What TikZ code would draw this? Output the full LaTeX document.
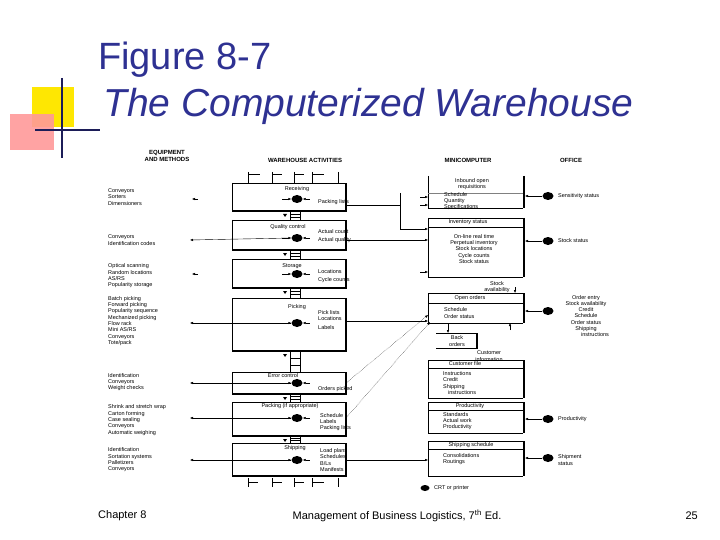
\documentclass[tikz,border=0pt]{standalone}
\usepackage{fontspec}
\setmainfont{Liberation Sans}
\usetikzlibrary{shapes.geometric,arrows.meta}
\definecolor{tblue}{HTML}{2E3192}
\begin{document}
\begin{tikzpicture}[x=1pt,y=-1pt,
 t/.style={font=\fontsize{5.5}{6.3}\selectfont,inner sep=0pt,align=left},
 tc/.style={font=\fontsize{5.5}{6.3}\selectfont,inner sep=0pt,align=center},
 hd/.style={font=\fontsize{6}{6.5}\selectfont\bfseries,inner sep=0pt,align=center},
 box/.style={draw,line width=0.5pt},
 sh/.style={line width=2.2pt},
 dot/.style={ellipse,fill=black,minimum width=11pt,minimum height=8pt,inner sep=0pt},
 ar/.style={-{Latex[length=3pt,width=2.5pt]},line width=0.4pt},
 rung/.style={line width=0.5pt}]
\useasboundingbox (0,0) rectangle (720,540);
% decoration
\fill[yellow!90!orange] (32,87) rectangle (74,127);
\fill[red!40,opacity=0.9] (10,114) rectangle (54,150);
\draw[line width=1.5pt,tblue!60!black] (62,78) -- (62,158);
\draw[line width=1.2pt,tblue!60!black] (35,130) -- (100,130);
\node[anchor=west,inner sep=0pt,font=\fontsize{38}{40}\selectfont,text=tblue] (title1) at (98,60) {Figure 8-7};
\node[anchor=west,inner sep=0pt,font=\fontsize{39}{41}\selectfont\itshape,text=tblue] (title2) at (103,106) {The Computerized Warehouse};
% headers
\node[hd] (h1) at (167,156) {EQUIPMENT\\AND METHODS};
\node[hd] (h2) at (305,160) {WAREHOUSE ACTIVITIES};
\node[hd] (h3) at (468,160) {MINICOMPUTER};
\node[hd] (h4) at (571,160) {OFFICE};
% warehouse boxes
\foreach \n/\a/\b in {w1/183/211,w2/220/250,w3/259/288,w4/298/351,w5/372/394,w6/402/436,w7/443/476}{
 \draw[box] (232,\a) -- (345,\a);
 \draw[box] (232,\a) -- (232,\b);
 \draw[sh] (232,\b) -- (346,\b) -- (346,\a);
 \coordinate (\n) at (297,{(\a+\b)/2});
}
% ladders
\foreach \a/\b in {211/220,250/259,288/298,351/372,394/402,436/443}{
 \draw[rung] (290,\a) -- (290,\b) (300,\a) -- (300,\b);
 \foreach \k in {0,0.33,0.66,1} \draw[rung] (290,{\a+\k*(\b-\a)}) -- (300,{\a+\k*(\b-\a)});
 \fill (283,{\a+3}) -- (287,{\a+3}) -- (285,{\a+6}) -- cycle;
}
% top and bottom ticks
\foreach \x in {248,272,294,312,338}{\draw[rung] (\x,172) -- (\x,183);}
\draw[rung] (248,174) -- (260,174) (272,174) -- (282,174) (294,174) -- (304,174) (312,174) -- (324,174);
\foreach \x in {248,272,294,312,338}{\draw[rung] (\x,478) -- (\x,487);}
\draw[rung] (248,482) -- (258,482) (272,482) -- (282,482) (294,482) -- (304,482) (312,482) -- (324,482);
% dots and activity texts
\node[dot] (d1) at (297,199) {};
\node[dot] (d2) at (297,238) {};
\node[dot] (d3) at (297,274) {};
\node[dot] (d4) at (297,323) {};
\node[dot] (d5) at (297,383) {};
\node[dot] (d6) at (297,418) {};
\node[dot] (d7) at (297,460) {};
\node[tc] (a1) at (297,189) {Receiving};
\node[tc] (a2) at (288,227) {Quality control};
\node[tc] (a3) at (292,266) {Storage};
\node[tc] (a4) at (297,307) {Picking};
\node[tc] (a5) at (283,376) {Error control};
\node[tc] (a6) at (290,406) {Packing (if appropriate)};
\node[tc] (a7) at (295,448) {Shipping};
\node[t,anchor=west] (b1) at (318,202) {Packing lists};
\node[t,anchor=west] (b2) at (318,236) {Actual count\\[1pt]Actual quality};
\node[t,anchor=west] (b3) at (318,276) {Locations\\[1pt]Cycle counts};
\node[t,anchor=west] (b4) at (318,320) {Pick lists\\Locations\\[2pt]Labels};
\node[t,anchor=west] (b5) at (318,389) {Orders picked};
\node[t,anchor=west] (b6) at (320,422) {Schedule\\Labels\\Packing lists};
\node[t,anchor=west] (b7) at (320,460) {Load plans\\Schedules\\B/Ls\\Manifests};
\foreach \i in {d1,d2,d3,d4,d5,d6,d7}{\draw[ar] ([xshift=-9pt]\i.west) -- (\i.west); \draw[ar] ([xshift=7pt]\i.east) -- (\i.east);}
% equipment texts
\node[t,anchor=west] (e1) at (108,197) {Conveyors\\Sorters\\Dimensioners};
\node[t,anchor=west] (e2) at (108,240) {Conveyors\\Identification codes};
\node[t,anchor=west] (e3) at (108,276) {Optical scanning\\Random locations\\AS/RS\\Popularity storage};
\node[t,anchor=west] (e4) at (108,321) {Batch picking\\Forward picking\\Popularity sequence\\Mechanized picking\\Flow rack\\Mini AS/RS\\Conveyors\\Tote/pack};
\node[t,anchor=west] (e5) at (108,382) {Identification\\Conveyors\\Weight checks};
\node[t,anchor=west] (e6) at (108,420) {Shrink and stretch wrap\\Carton forming\\Case sealing\\Conveyors\\Automatic weighing};
\node[t,anchor=west] (e7) at (108,460) {Identification\\Sortation systems\\Palletizers\\Conveyors};
\coordinate (l1) at (192,199); \coordinate (l3) at (192,274);
\draw[ar] (198,199) -- (l1); \draw[ar] (198,274) -- (l3);
\coordinate (l2) at (190,240); \coordinate (l4) at (190,323); \coordinate (l5) at (190,383);
\coordinate (l6) at (190,418); \coordinate (l7) at (190,460);
\draw[ar] (d2.west) -- (l2); \draw[ar] (d4.west) -- (l4); \draw[ar] (d5.west) -- (l5);
\draw[ar] (d6.west) -- (l6); \draw[ar] (d7.west) -- (l7);
% minicomputer boxes
\foreach \n/\a/\b in {m1/176/208,m2/218/277,m3/293/323,m4/360/398,m5/402/433,m6/441/476}{
 \draw[box] (428,\a) -- (428,\b) -- (523,\b);
 \draw[sh] (524,\a) -- (524,\b);
 \coordinate (\n) at (524,{(\a+\b)/2});
}
\foreach \a in {218,293,360,402,441}{\draw[box] (428,\a) -- (523,\a);}
\draw[box,gray] (428,193) -- (523,193);
\draw[box] (428,227) -- (523,227);
\draw[box] (428,303) -- (523,303);
\draw[box] (428,368) -- (523,368);
\draw[box] (428,410) -- (523,410);
\draw[box] (428,449) -- (523,449);
\node[tc] (c1) at (472,184) {Inbound open\\requisitions};
\node[t,anchor=west] (c1b) at (444,201) {Schedule\\Quantity\\Specifications};
\node[tc] (c2) at (468,222) {Inventory status};
\node[tc] (c2b) at (474,249) {On-line real time\\Perpetual inventory\\Stock locations\\Cycle counts\\Stock status};
\node[tc] (c3) at (470,298) {Open orders};
\node[t,anchor=west] (c3b) at (444,313) {Schedule\\Order status};
\draw[box] (436,333) -- (476,333) -- (476,348) -- (436,348);
\draw[sh] (477,333) -- (477,349);
\node[tc] (bo) at (457,341) {Back\\orders};
\node[tc] (ci) at (489,356) {Customer\\information};
\node[tc] (c4) at (465,364) {Customer file};
\node[t,anchor=west] (c4b) at (443,383) {Instructions\\Credit\\Shipping\\\hspace*{5pt}instructions};
\node[tc] (c5) at (470,406) {Productivity};
\node[t,anchor=west] (c5b) at (443,421) {Standards\\Actual work\\Productivity};
\node[tc] (c6) at (471,445) {Shipping schedule};
\node[t,anchor=west] (c6b) at (443,459) {Consolidations\\Routings};
\node[tc] (sa) at (497,287) {Stock\\availability};
\draw[ar] (515,287) -- (515,293);
\draw[ar] (448,323) -- (448,333);
\draw[ar] (510,330) -- (510,323);
% connections warehouse -> minicomputer
\draw (346,205) -- (400,205);
\draw (400,193) -- (400,229);
\draw[ar] (400,229) -- (428,229);
\draw[ar] (420,197) -- (428,197);
\draw[ar] (420,205) -- (428,205);
\draw[ar] (346,240) -- (428,240);
\draw[ar] (420,272) -- (428,272);
\draw[ar] (346,321) -- (428,321);
\draw[ar,densely dotted] (346,383) -- (428,315);
\draw[ar,densely dotted] (346,418) -- (430,322);
\draw[ar] (346,460) -- (428,460);
% office
\node[dot] (o1) at (548,196) {}; \node[t,anchor=west] (p1) at (558,196) {Sensitivity status};
\node[dot] (o2) at (548,241) {}; \node[t,anchor=west] (p2) at (558,241) {Stock status};
\node[dot] (o3) at (548,311) {}; \node[tc] (p3) at (586,316) {Order entry\\Stock availability\\Credit\\Schedule\\Order status\\Shipping\\\hspace*{18pt}instructions};
\node[dot] (o5) at (548,419) {}; \node[t,anchor=west] (p5) at (558,419) {Productivity};
\node[dot] (o6) at (548,458) {}; \node[t,anchor=west] (p6) at (558,460) {Shipment\\status};
\foreach \o/\y in {o1/196,o2/241,o3/311,o5/419,o6/458}{\draw[ar] (\o.west) -- (525,\y);}
\node[dot,minimum width=9pt,minimum height=6pt] (leg) at (425,488) {};
\node[t,anchor=west] (legt) at (434,488) {CRT or printer};
% footer
\node[anchor=west,inner sep=0pt,font=\fontsize{11}{12}\selectfont] (f1) at (98,516) {Chapter 8};
\node[inner sep=0pt,font=\fontsize{11}{12}\selectfont] (f2) at (397,516) {Management of Business Logistics, 7\textsuperscript{th} Ed.};
\node[anchor=east,inner sep=0pt,font=\fontsize{11}{12}\selectfont] (f3) at (698,516) {25};
\end{tikzpicture}
\end{document}
